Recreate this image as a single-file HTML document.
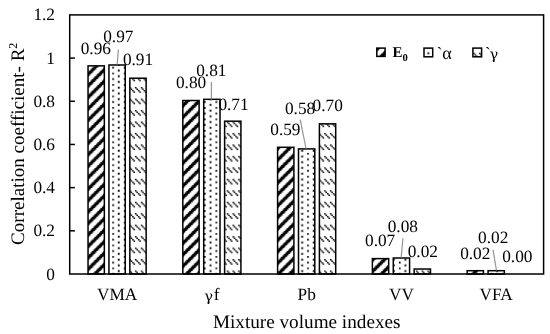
<!DOCTYPE html>
<html><head><meta charset="utf-8"><style>
html,body{margin:0;padding:0;background:#fff;width:550px;height:334px;overflow:hidden}
svg{display:block}
text{font-family:"Liberation Serif","Times New Roman",serif;fill:#000;text-rendering:geometricPrecision}
</style></head><body>
<svg width="550" height="334" viewBox="0 0 550 334">
<defs>
<pattern id="p1" patternUnits="userSpaceOnUse" width="8" height="8" patternTransform="translate(1.74,1.74) scale(1.433)">
<path d="M10.15,-10 L10.15,-9 L9.15,-9 L9.15,-8 L8.15,-8 L8.15,-7 L7.15,-7 L7.15,-6 L6.15,-6 L6.15,-5 L5.15,-5 L5.15,-4 L4.15,-4 L4.15,-3 L3.15,-3 L3.15,-2 L2.15,-2 L2.15,-1 L1.15,-1 L1.15,0 L0.15,0 L0.15,1 L-0.85,1 L-0.85,2 L-1.85,2 L-1.85,3 L-2.85,3 L-2.85,4 L-3.85,4 L-3.85,5 L-4.85,5 L-4.85,6 L-5.85,6 L-5.85,7 L-6.85,7 L-6.85,8 L-7.85,8 L-7.85,9 L-8.85,9 L-8.85,10 L-9.85,10 L-9.85,11 L-10.85,11 L-10.85,12 L-11.85,12 L-11.85,13 L-12.85,13 L-12.85,14 L-13.85,14 L-13.85,15 L-14.85,15 L-14.85,16 L-15.85,16 L-15.85,17 L-16.85,17 L-16.85,18 L-17.85,18 L-17.85,19 L-21.15,19 L-21.15,18 L-20.15,18 L-20.15,17 L-19.15,17 L-19.15,16 L-18.15,16 L-18.15,15 L-17.15,15 L-17.15,14 L-16.15,14 L-16.15,13 L-15.15,13 L-15.15,12 L-14.15,12 L-14.15,11 L-13.15,11 L-13.15,10 L-12.15,10 L-12.15,9 L-11.15,9 L-11.15,8 L-10.15,8 L-10.15,7 L-9.15,7 L-9.15,6 L-8.15,6 L-8.15,5 L-7.15,5 L-7.15,4 L-6.15,4 L-6.15,3 L-5.15,3 L-5.15,2 L-4.15,2 L-4.15,1 L-3.15,1 L-3.15,0 L-2.15,0 L-2.15,-1 L-1.15,-1 L-1.15,-2 L-0.15,-2 L-0.15,-3 L0.85,-3 L0.85,-4 L1.85,-4 L1.85,-5 L2.85,-5 L2.85,-6 L3.85,-6 L3.85,-7 L4.85,-7 L4.85,-8 L5.85,-8 L5.85,-9 L6.85,-9 L6.85,-10Z M18.15,-10 L18.15,-9 L17.15,-9 L17.15,-8 L16.15,-8 L16.15,-7 L15.15,-7 L15.15,-6 L14.15,-6 L14.15,-5 L13.15,-5 L13.15,-4 L12.15,-4 L12.15,-3 L11.15,-3 L11.15,-2 L10.15,-2 L10.15,-1 L9.15,-1 L9.15,0 L8.15,0 L8.15,1 L7.15,1 L7.15,2 L6.15,2 L6.15,3 L5.15,3 L5.15,4 L4.15,4 L4.15,5 L3.15,5 L3.15,6 L2.15,6 L2.15,7 L1.15,7 L1.15,8 L0.15,8 L0.15,9 L-0.85,9 L-0.85,10 L-1.85,10 L-1.85,11 L-2.85,11 L-2.85,12 L-3.85,12 L-3.85,13 L-4.85,13 L-4.85,14 L-5.85,14 L-5.85,15 L-6.85,15 L-6.85,16 L-7.85,16 L-7.85,17 L-8.85,17 L-8.85,18 L-9.85,18 L-9.85,19 L-13.15,19 L-13.15,18 L-12.15,18 L-12.15,17 L-11.15,17 L-11.15,16 L-10.15,16 L-10.15,15 L-9.15,15 L-9.15,14 L-8.15,14 L-8.15,13 L-7.15,13 L-7.15,12 L-6.15,12 L-6.15,11 L-5.15,11 L-5.15,10 L-4.15,10 L-4.15,9 L-3.15,9 L-3.15,8 L-2.15,8 L-2.15,7 L-1.15,7 L-1.15,6 L-0.15,6 L-0.15,5 L0.85,5 L0.85,4 L1.85,4 L1.85,3 L2.85,3 L2.85,2 L3.85,2 L3.85,1 L4.85,1 L4.85,0 L5.85,0 L5.85,-1 L6.85,-1 L6.85,-2 L7.85,-2 L7.85,-3 L8.85,-3 L8.85,-4 L9.85,-4 L9.85,-5 L10.85,-5 L10.85,-6 L11.85,-6 L11.85,-7 L12.85,-7 L12.85,-8 L13.85,-8 L13.85,-9 L14.85,-9 L14.85,-10Z M26.15,-10 L26.15,-9 L25.15,-9 L25.15,-8 L24.15,-8 L24.15,-7 L23.15,-7 L23.15,-6 L22.15,-6 L22.15,-5 L21.15,-5 L21.15,-4 L20.15,-4 L20.15,-3 L19.15,-3 L19.15,-2 L18.15,-2 L18.15,-1 L17.15,-1 L17.15,0 L16.15,0 L16.15,1 L15.15,1 L15.15,2 L14.15,2 L14.15,3 L13.15,3 L13.15,4 L12.15,4 L12.15,5 L11.15,5 L11.15,6 L10.15,6 L10.15,7 L9.15,7 L9.15,8 L8.15,8 L8.15,9 L7.15,9 L7.15,10 L6.15,10 L6.15,11 L5.15,11 L5.15,12 L4.15,12 L4.15,13 L3.15,13 L3.15,14 L2.15,14 L2.15,15 L1.15,15 L1.15,16 L0.15,16 L0.15,17 L-0.85,17 L-0.85,18 L-1.85,18 L-1.85,19 L-5.15,19 L-5.15,18 L-4.15,18 L-4.15,17 L-3.15,17 L-3.15,16 L-2.15,16 L-2.15,15 L-1.15,15 L-1.15,14 L-0.15,14 L-0.15,13 L0.85,13 L0.85,12 L1.85,12 L1.85,11 L2.85,11 L2.85,10 L3.85,10 L3.85,9 L4.85,9 L4.85,8 L5.85,8 L5.85,7 L6.85,7 L6.85,6 L7.85,6 L7.85,5 L8.85,5 L8.85,4 L9.85,4 L9.85,3 L10.85,3 L10.85,2 L11.85,2 L11.85,1 L12.85,1 L12.85,0 L13.85,0 L13.85,-1 L14.85,-1 L14.85,-2 L15.85,-2 L15.85,-3 L16.85,-3 L16.85,-4 L17.85,-4 L17.85,-5 L18.85,-5 L18.85,-6 L19.85,-6 L19.85,-7 L20.85,-7 L20.85,-8 L21.85,-8 L21.85,-9 L22.85,-9 L22.85,-10Z" fill="#000"/>
</pattern>
<pattern id="p2" patternUnits="userSpaceOnUse" width="8" height="8" patternTransform="translate(9.14,3.85) scale(1.433)">
<path d="M-0.13,-0.13h1.26v1.26h-1.26z M3.87,1.87h1.26v1.26h-1.26z M-0.13,3.87h1.26v1.26h-1.26z M3.87,5.87h1.26v1.26h-1.26z" fill="#000"/>
</pattern>
<pattern id="p3" patternUnits="userSpaceOnUse" width="8" height="8" patternTransform="translate(3.21,6.82) scale(1.433)">
<path d="M-0.05,-0.05h1.1v1.1h-1.1z M0.95,0.95h1.1v1.1h-1.1z M1.95,1.95h1.1v1.1h-1.1z M2.95,2.95h1.1v1.1h-1.1z M3.95,-0.05h1.1v1.1h-1.1z M4.95,0.95h1.1v1.1h-1.1z M5.95,1.95h1.1v1.1h-1.1z M6.95,2.95h1.1v1.1h-1.1z" fill="#000"/>
</pattern>
</defs>
<rect width="550" height="334" fill="#fff"/>

<rect x="88.04" y="65.86" width="16.3" height="208.14" fill="url(#p1)" stroke="#000" stroke-width="1.5"/>
<rect x="108.94" y="64.99" width="16.3" height="209.01" fill="url(#p2)" stroke="#000" stroke-width="1.5"/>
<rect x="129.84" y="78.21" width="16.3" height="195.79" fill="url(#p3)" stroke="#000" stroke-width="1.5"/>
<rect x="182.82" y="100.51" width="16.3" height="173.49" fill="url(#p1)" stroke="#000" stroke-width="1.5"/>
<rect x="203.72" y="99.32" width="16.3" height="174.68" fill="url(#p2)" stroke="#000" stroke-width="1.5"/>
<rect x="224.62" y="121.20" width="16.3" height="152.80" fill="url(#p3)" stroke="#000" stroke-width="1.5"/>
<rect x="277.60" y="147.30" width="16.3" height="126.70" fill="url(#p1)" stroke="#000" stroke-width="1.5"/>
<rect x="298.50" y="148.90" width="16.3" height="125.10" fill="url(#p2)" stroke="#000" stroke-width="1.5"/>
<rect x="319.40" y="123.85" width="16.3" height="150.15" fill="url(#p3)" stroke="#000" stroke-width="1.5"/>
<rect x="372.38" y="258.61" width="16.3" height="15.39" fill="url(#p1)" stroke="#000" stroke-width="1.5"/>
<rect x="393.28" y="258.00" width="16.3" height="16.00" fill="url(#p2)" stroke="#000" stroke-width="1.5"/>
<rect x="414.18" y="269.03" width="16.3" height="4.97" fill="url(#p3)" stroke="#000" stroke-width="1.5"/>
<rect x="467.16" y="270.70" width="16.3" height="3.30" fill="url(#p1)" stroke="#000" stroke-width="1.5"/>
<rect x="488.06" y="270.70" width="16.3" height="3.30" fill="url(#p2)" stroke="#000" stroke-width="1.5"/>
<rect x="508.96" y="274.00" width="16.3" height="0.00" fill="url(#p3)" stroke="#000" stroke-width="1.5"/>
<rect x="69.7" y="14.9" width="473.90" height="259.10" fill="none" stroke="#000" stroke-width="1.5"/>
<line x1="69.7" y1="230.82" x2="74.90" y2="230.82" stroke="#000" stroke-width="1.5"/>
<line x1="69.7" y1="187.63" x2="74.90" y2="187.63" stroke="#000" stroke-width="1.5"/>
<line x1="69.7" y1="144.45" x2="74.90" y2="144.45" stroke="#000" stroke-width="1.5"/>
<line x1="69.7" y1="101.27" x2="74.90" y2="101.27" stroke="#000" stroke-width="1.5"/>
<line x1="69.7" y1="58.08" x2="74.90" y2="58.08" stroke="#000" stroke-width="1.5"/>
<text x="55.0" y="279.60" font-size="17.3" text-anchor="end">0</text>
<text x="55.0" y="235.72" font-size="17.3" text-anchor="end">0.2</text>
<text x="55.0" y="193.23" font-size="17.3" text-anchor="end">0.4</text>
<text x="55.0" y="149.75" font-size="17.3" text-anchor="end">0.6</text>
<text x="55.0" y="106.77" font-size="17.3" text-anchor="end">0.8</text>
<text x="55.0" y="63.68" font-size="17.3" text-anchor="end">1</text>
<text x="55.0" y="19.70" font-size="17.3" text-anchor="end">1.2</text>
<line x1="118.4" y1="49.5" x2="117.2" y2="64.3" stroke="#959595" stroke-width="1.2"/>
<line x1="211.4" y1="82.1" x2="211.4" y2="99.4" stroke="#959595" stroke-width="1.2"/>
<line x1="300.2" y1="119.7" x2="306.0" y2="148.5" stroke="#959595" stroke-width="1.2"/>
<line x1="402.9" y1="238.3" x2="401.2" y2="257.4" stroke="#959595" stroke-width="1.2"/>
<line x1="493.0" y1="249.7" x2="496.5" y2="270.5" stroke="#959595" stroke-width="1.2"/>
<text x="95.85" y="53.60" font-size="17.3" text-anchor="middle">0.96</text>
<text x="118.35" y="42.25" font-size="17.3" text-anchor="middle">0.97</text>
<text x="138.00" y="65.00" font-size="17.3" text-anchor="middle">0.91</text>
<text x="191.10" y="87.85" font-size="17.3" text-anchor="middle">0.80</text>
<text x="211.30" y="76.15" font-size="17.3" text-anchor="middle">0.81</text>
<text x="233.50" y="110.00" font-size="17.3" text-anchor="middle">0.71</text>
<text x="285.40" y="135.00" font-size="17.3" text-anchor="middle">0.59</text>
<text x="300.05" y="113.85" font-size="17.3" text-anchor="middle">0.58</text>
<text x="327.70" y="111.20" font-size="17.3" text-anchor="middle">0.70</text>
<text x="380.15" y="246.25" font-size="17.3" text-anchor="middle">0.07</text>
<text x="402.85" y="232.05" font-size="17.3" text-anchor="middle">0.08</text>
<text x="422.80" y="257.20" font-size="17.3" text-anchor="middle">0.02</text>
<text x="475.25" y="258.95" font-size="17.3" text-anchor="middle">0.02</text>
<text x="493.20" y="243.10" font-size="17.3" text-anchor="middle">0.02</text>
<text x="517.35" y="262.25" font-size="17.3" text-anchor="middle">0.00</text>
<text x="117.09" y="300" font-size="17.3" text-anchor="middle">VMA</text>
<text x="211.87" y="300" font-size="17.3" text-anchor="middle"><tspan font-family="DejaVu Serif, serif" font-size="14.6" dy="0.8">γ</tspan><tspan dx="0.6" dy="-0.8">f</tspan></text>
<text x="306.65" y="300" font-size="17.3" text-anchor="middle">Pb</text>
<text x="401.43" y="300" font-size="17.3" text-anchor="middle">VV</text>
<text x="496.21" y="300" font-size="17.3" text-anchor="middle">VFA</text>
<text x="306.7" y="327.9" font-size="19.2" text-anchor="middle">Mixture volume indexes</text>
<text transform="translate(24.3,143.8) rotate(-90)" font-size="19.05" text-anchor="middle">Correlation coefficient- R<tspan font-size="12" dy="-7.5">2</tspan></text>
<rect x="376.8" y="48.1" width="8.3" height="8.3" fill="url(#p1)" stroke="#000" stroke-width="1.5"/>
<text x="392.6" y="57.2" font-size="15" font-weight="bold">E<tspan font-size="10.6" dy="3.4">0</tspan></text>
<rect x="424" y="48.1" width="8.7" height="8.7" fill="url(#p2)" stroke="#000" stroke-width="1.5"/>
<text font-size="17.3"><tspan x="436.8" y="59.0">`</tspan><tspan x="442.3" y="58.9" font-size="18.2">α</tspan></text>
<rect x="472.9" y="48.1" width="8.7" height="8.7" fill="url(#p3)" stroke="#000" stroke-width="1.5"/>
<text font-size="17.3"><tspan x="485.0" y="59">`</tspan><tspan x="489.4" y="58.8" font-family="DejaVu Serif, serif" font-size="14.6">γ</tspan></text>
</svg>
</body></html>
